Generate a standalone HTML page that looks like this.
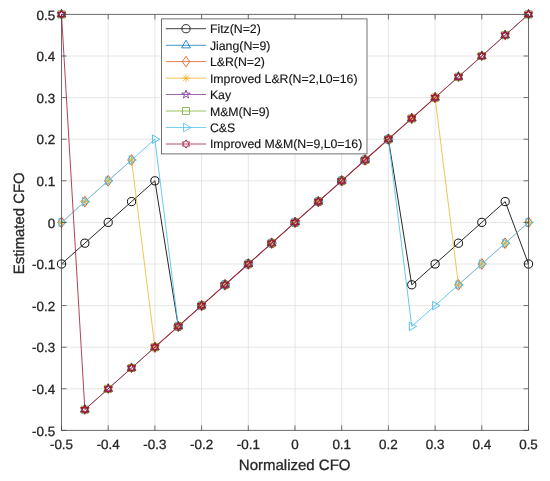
<!DOCTYPE html>
<html><head><meta charset="utf-8"><title>CFO estimators</title>
<style>html,body{margin:0;padding:0;background:#fff}svg{display:block}text{text-rendering:geometricPrecision;stroke:#262626;stroke-width:.15px}.t text{stroke-width:.3px}</style>
</head><body>
<svg width="550" height="481" viewBox="0 0 550 481" font-family="'Liberation Sans', Arial, Helvetica, sans-serif">
<rect width="550" height="481" fill="#fff"/>
<path d="M61.5 14.4V430.4M61.5 14.4H528.5M108.2 14.4V430.4M61.5 56H528.5M154.9 14.4V430.4M61.5 97.6H528.5M201.6 14.4V430.4M61.5 139.2H528.5M248.3 14.4V430.4M61.5 180.8H528.5M295 14.4V430.4M61.5 222.4H528.5M341.7 14.4V430.4M61.5 264H528.5M388.4 14.4V430.4M61.5 305.6H528.5M435.1 14.4V430.4M61.5 347.2H528.5M481.8 14.4V430.4M61.5 388.8H528.5M528.5 14.4V430.4M61.5 430.4H528.5" stroke="#dedede" stroke-width="0.75" fill="none"/>
<path d="M178.25 326.4L201.6 305.6L224.95 284.8L248.3 264L271.65 243.2L295 222.4L318.35 201.6L341.7 180.8L365.05 160L388.4 139.2" stroke="#000000" stroke-width="0.7" stroke-opacity="0.4" fill="none" stroke-linejoin="round"/>
<path d="M61.5 264L84.85 243.2L108.2 222.4L131.55 201.6L154.9 180.8L178.25 326.4M388.4 139.2L411.75 284.8L435.1 264L458.45 243.2L481.8 222.4L505.15 201.6L528.5 264" stroke="#000000" stroke-width="0.85" fill="none" stroke-linejoin="round"/>
<g><circle cx="61.5" cy="264" r="4.1" stroke="#000000" stroke-width="0.95" fill="none"/><circle cx="84.85" cy="243.2" r="4.1" stroke="#000000" stroke-width="0.95" fill="none"/><circle cx="108.2" cy="222.4" r="4.1" stroke="#000000" stroke-width="0.95" fill="none"/><circle cx="131.55" cy="201.6" r="4.1" stroke="#000000" stroke-width="0.95" fill="none"/><circle cx="154.9" cy="180.8" r="4.1" stroke="#000000" stroke-width="0.95" fill="none"/><circle cx="178.25" cy="326.4" r="4.1" stroke="#000000" stroke-width="0.95" fill="none"/><circle cx="201.6" cy="305.6" r="4.1" stroke="#000000" stroke-width="0.95" fill="none"/><circle cx="224.95" cy="284.8" r="4.1" stroke="#000000" stroke-width="0.95" fill="none"/><circle cx="248.3" cy="264" r="4.1" stroke="#000000" stroke-width="0.95" fill="none"/><circle cx="271.65" cy="243.2" r="4.1" stroke="#000000" stroke-width="0.95" fill="none"/><circle cx="295" cy="222.4" r="4.1" stroke="#000000" stroke-width="0.95" fill="none"/><circle cx="318.35" cy="201.6" r="4.1" stroke="#000000" stroke-width="0.95" fill="none"/><circle cx="341.7" cy="180.8" r="4.1" stroke="#000000" stroke-width="0.95" fill="none"/><circle cx="365.05" cy="160" r="4.1" stroke="#000000" stroke-width="0.95" fill="none"/><circle cx="388.4" cy="139.2" r="4.1" stroke="#000000" stroke-width="0.95" fill="none"/><circle cx="411.75" cy="284.8" r="4.1" stroke="#000000" stroke-width="0.95" fill="none"/><circle cx="435.1" cy="264" r="4.1" stroke="#000000" stroke-width="0.95" fill="none"/><circle cx="458.45" cy="243.2" r="4.1" stroke="#000000" stroke-width="0.95" fill="none"/><circle cx="481.8" cy="222.4" r="4.1" stroke="#000000" stroke-width="0.95" fill="none"/><circle cx="505.15" cy="201.6" r="4.1" stroke="#000000" stroke-width="0.95" fill="none"/><circle cx="528.5" cy="264" r="4.1" stroke="#000000" stroke-width="0.95" fill="none"/></g>
<path d="M84.85 409.6L108.2 388.8L131.55 368L154.9 347.2L178.25 326.4L201.6 305.6L224.95 284.8L248.3 264L271.65 243.2L295 222.4L318.35 201.6L341.7 180.8L365.05 160L388.4 139.2L411.75 118.4L435.1 97.6L458.45 76.8L481.8 56L505.15 35.2L528.5 14.4" stroke="#0072BD" stroke-width="0.7" stroke-opacity="0.4" fill="none" stroke-linejoin="round"/>
<g><polygon points="61.5,9.3 65.92,16.95 57.08,16.95" stroke="#0072BD" stroke-width="0.95" fill="none" stroke-linejoin="miter"/><polygon points="84.85,404.5 89.27,412.15 80.43,412.15" stroke="#0072BD" stroke-width="0.95" fill="none" stroke-linejoin="miter"/><polygon points="108.2,383.7 112.62,391.35 103.78,391.35" stroke="#0072BD" stroke-width="0.95" fill="none" stroke-linejoin="miter"/><polygon points="131.55,362.9 135.97,370.55 127.13,370.55" stroke="#0072BD" stroke-width="0.95" fill="none" stroke-linejoin="miter"/><polygon points="154.9,342.1 159.32,349.75 150.48,349.75" stroke="#0072BD" stroke-width="0.95" fill="none" stroke-linejoin="miter"/><polygon points="178.25,321.3 182.67,328.95 173.83,328.95" stroke="#0072BD" stroke-width="0.95" fill="none" stroke-linejoin="miter"/><polygon points="201.6,300.5 206.02,308.15 197.18,308.15" stroke="#0072BD" stroke-width="0.95" fill="none" stroke-linejoin="miter"/><polygon points="224.95,279.7 229.37,287.35 220.53,287.35" stroke="#0072BD" stroke-width="0.95" fill="none" stroke-linejoin="miter"/><polygon points="248.3,258.9 252.72,266.55 243.88,266.55" stroke="#0072BD" stroke-width="0.95" fill="none" stroke-linejoin="miter"/><polygon points="271.65,238.1 276.07,245.75 267.23,245.75" stroke="#0072BD" stroke-width="0.95" fill="none" stroke-linejoin="miter"/><polygon points="295,217.3 299.42,224.95 290.58,224.95" stroke="#0072BD" stroke-width="0.95" fill="none" stroke-linejoin="miter"/><polygon points="318.35,196.5 322.77,204.15 313.93,204.15" stroke="#0072BD" stroke-width="0.95" fill="none" stroke-linejoin="miter"/><polygon points="341.7,175.7 346.12,183.35 337.28,183.35" stroke="#0072BD" stroke-width="0.95" fill="none" stroke-linejoin="miter"/><polygon points="365.05,154.9 369.47,162.55 360.63,162.55" stroke="#0072BD" stroke-width="0.95" fill="none" stroke-linejoin="miter"/><polygon points="388.4,134.1 392.82,141.75 383.98,141.75" stroke="#0072BD" stroke-width="0.95" fill="none" stroke-linejoin="miter"/><polygon points="411.75,113.3 416.17,120.95 407.33,120.95" stroke="#0072BD" stroke-width="0.95" fill="none" stroke-linejoin="miter"/><polygon points="435.1,92.5 439.52,100.15 430.68,100.15" stroke="#0072BD" stroke-width="0.95" fill="none" stroke-linejoin="miter"/><polygon points="458.45,71.7 462.87,79.35 454.03,79.35" stroke="#0072BD" stroke-width="0.95" fill="none" stroke-linejoin="miter"/><polygon points="481.8,50.9 486.22,58.55 477.38,58.55" stroke="#0072BD" stroke-width="0.95" fill="none" stroke-linejoin="miter"/><polygon points="505.15,30.1 509.57,37.75 500.73,37.75" stroke="#0072BD" stroke-width="0.95" fill="none" stroke-linejoin="miter"/><polygon points="528.5,9.3 532.92,16.95 524.08,16.95" stroke="#0072BD" stroke-width="0.95" fill="none" stroke-linejoin="miter"/></g>
<path d="M61.5 222.4L84.85 201.6L108.2 180.8L131.55 160M154.9 347.2L178.25 326.4L201.6 305.6L224.95 284.8L248.3 264L271.65 243.2L295 222.4L318.35 201.6L341.7 180.8L365.05 160L388.4 139.2L411.75 118.4L435.1 97.6M458.45 284.8L481.8 264L505.15 243.2L528.5 222.4" stroke="#D95319" stroke-width="0.7" stroke-opacity="0.4" fill="none" stroke-linejoin="round"/>
<g><polygon points="61.5,217.1 65.2,222.4 61.5,227.7 57.8,222.4" stroke="#D95319" stroke-width="0.95" fill="none" stroke-linejoin="miter"/><polygon points="84.85,196.3 88.55,201.6 84.85,206.9 81.15,201.6" stroke="#D95319" stroke-width="0.95" fill="none" stroke-linejoin="miter"/><polygon points="108.2,175.5 111.9,180.8 108.2,186.1 104.5,180.8" stroke="#D95319" stroke-width="0.95" fill="none" stroke-linejoin="miter"/><polygon points="131.55,154.7 135.25,160 131.55,165.3 127.85,160" stroke="#D95319" stroke-width="0.95" fill="none" stroke-linejoin="miter"/><polygon points="154.9,341.9 158.6,347.2 154.9,352.5 151.2,347.2" stroke="#D95319" stroke-width="0.95" fill="none" stroke-linejoin="miter"/><polygon points="178.25,321.1 181.95,326.4 178.25,331.7 174.55,326.4" stroke="#D95319" stroke-width="0.95" fill="none" stroke-linejoin="miter"/><polygon points="201.6,300.3 205.3,305.6 201.6,310.9 197.9,305.6" stroke="#D95319" stroke-width="0.95" fill="none" stroke-linejoin="miter"/><polygon points="224.95,279.5 228.65,284.8 224.95,290.1 221.25,284.8" stroke="#D95319" stroke-width="0.95" fill="none" stroke-linejoin="miter"/><polygon points="248.3,258.7 252,264 248.3,269.3 244.6,264" stroke="#D95319" stroke-width="0.95" fill="none" stroke-linejoin="miter"/><polygon points="271.65,237.9 275.35,243.2 271.65,248.5 267.95,243.2" stroke="#D95319" stroke-width="0.95" fill="none" stroke-linejoin="miter"/><polygon points="295,217.1 298.7,222.4 295,227.7 291.3,222.4" stroke="#D95319" stroke-width="0.95" fill="none" stroke-linejoin="miter"/><polygon points="318.35,196.3 322.05,201.6 318.35,206.9 314.65,201.6" stroke="#D95319" stroke-width="0.95" fill="none" stroke-linejoin="miter"/><polygon points="341.7,175.5 345.4,180.8 341.7,186.1 338,180.8" stroke="#D95319" stroke-width="0.95" fill="none" stroke-linejoin="miter"/><polygon points="365.05,154.7 368.75,160 365.05,165.3 361.35,160" stroke="#D95319" stroke-width="0.95" fill="none" stroke-linejoin="miter"/><polygon points="388.4,133.9 392.1,139.2 388.4,144.5 384.7,139.2" stroke="#D95319" stroke-width="0.95" fill="none" stroke-linejoin="miter"/><polygon points="411.75,113.1 415.45,118.4 411.75,123.7 408.05,118.4" stroke="#D95319" stroke-width="0.95" fill="none" stroke-linejoin="miter"/><polygon points="435.1,92.3 438.8,97.6 435.1,102.9 431.4,97.6" stroke="#D95319" stroke-width="0.95" fill="none" stroke-linejoin="miter"/><polygon points="458.45,279.5 462.15,284.8 458.45,290.1 454.75,284.8" stroke="#D95319" stroke-width="0.95" fill="none" stroke-linejoin="miter"/><polygon points="481.8,258.7 485.5,264 481.8,269.3 478.1,264" stroke="#D95319" stroke-width="0.95" fill="none" stroke-linejoin="miter"/><polygon points="505.15,237.9 508.85,243.2 505.15,248.5 501.45,243.2" stroke="#D95319" stroke-width="0.95" fill="none" stroke-linejoin="miter"/><polygon points="528.5,217.1 532.2,222.4 528.5,227.7 524.8,222.4" stroke="#D95319" stroke-width="0.95" fill="none" stroke-linejoin="miter"/></g>
<path d="M61.5 222.4L84.85 201.6L108.2 180.8L131.55 160M154.9 347.2L178.25 326.4L201.6 305.6L224.95 284.8L248.3 264L271.65 243.2L295 222.4L318.35 201.6L341.7 180.8L365.05 160L388.4 139.2L411.75 118.4L435.1 97.6M458.45 284.8L481.8 264L505.15 243.2L528.5 222.4" stroke="#EDB120" stroke-width="0.7" stroke-opacity="0.4" fill="none" stroke-linejoin="round"/>
<path d="M131.55 160L154.9 347.2M435.1 97.6L458.45 284.8" stroke="#EDB120" stroke-width="0.89" stroke-opacity="0.85" fill="none" stroke-linejoin="round"/>
<g><path d="M57.6 222.4H65.4M61.5 218.5V226.3M58.75 219.65L64.25 225.15M58.75 225.15L64.25 219.65" stroke="#EDB120" stroke-width="0.95" fill="none"/><path d="M80.95 201.6H88.75M84.85 197.7V205.5M82.1 198.85L87.6 204.35M82.1 204.35L87.6 198.85" stroke="#EDB120" stroke-width="0.95" fill="none"/><path d="M104.3 180.8H112.1M108.2 176.9V184.7M105.45 178.05L110.95 183.55M105.45 183.55L110.95 178.05" stroke="#EDB120" stroke-width="0.95" fill="none"/><path d="M127.65 160H135.45M131.55 156.1V163.9M128.8 157.25L134.3 162.75M128.8 162.75L134.3 157.25" stroke="#EDB120" stroke-width="0.95" fill="none"/><path d="M151 347.2H158.8M154.9 343.3V351.1M152.15 344.45L157.65 349.95M152.15 349.95L157.65 344.45" stroke="#EDB120" stroke-width="0.95" fill="none"/><path d="M174.35 326.4H182.15M178.25 322.5V330.3M175.5 323.65L181 329.15M175.5 329.15L181 323.65" stroke="#EDB120" stroke-width="0.95" fill="none"/><path d="M197.7 305.6H205.5M201.6 301.7V309.5M198.85 302.85L204.35 308.35M198.85 308.35L204.35 302.85" stroke="#EDB120" stroke-width="0.95" fill="none"/><path d="M221.05 284.8H228.85M224.95 280.9V288.7M222.2 282.05L227.7 287.55M222.2 287.55L227.7 282.05" stroke="#EDB120" stroke-width="0.95" fill="none"/><path d="M244.4 264H252.2M248.3 260.1V267.9M245.55 261.25L251.05 266.75M245.55 266.75L251.05 261.25" stroke="#EDB120" stroke-width="0.95" fill="none"/><path d="M267.75 243.2H275.55M271.65 239.3V247.1M268.9 240.45L274.4 245.95M268.9 245.95L274.4 240.45" stroke="#EDB120" stroke-width="0.95" fill="none"/><path d="M291.1 222.4H298.9M295 218.5V226.3M292.25 219.65L297.75 225.15M292.25 225.15L297.75 219.65" stroke="#EDB120" stroke-width="0.95" fill="none"/><path d="M314.45 201.6H322.25M318.35 197.7V205.5M315.6 198.85L321.1 204.35M315.6 204.35L321.1 198.85" stroke="#EDB120" stroke-width="0.95" fill="none"/><path d="M337.8 180.8H345.6M341.7 176.9V184.7M338.95 178.05L344.45 183.55M338.95 183.55L344.45 178.05" stroke="#EDB120" stroke-width="0.95" fill="none"/><path d="M361.15 160H368.95M365.05 156.1V163.9M362.3 157.25L367.8 162.75M362.3 162.75L367.8 157.25" stroke="#EDB120" stroke-width="0.95" fill="none"/><path d="M384.5 139.2H392.3M388.4 135.3V143.1M385.65 136.45L391.15 141.95M385.65 141.95L391.15 136.45" stroke="#EDB120" stroke-width="0.95" fill="none"/><path d="M407.85 118.4H415.65M411.75 114.5V122.3M409 115.65L414.5 121.15M409 121.15L414.5 115.65" stroke="#EDB120" stroke-width="0.95" fill="none"/><path d="M431.2 97.6H439M435.1 93.7V101.5M432.35 94.85L437.85 100.35M432.35 100.35L437.85 94.85" stroke="#EDB120" stroke-width="0.95" fill="none"/><path d="M454.55 284.8H462.35M458.45 280.9V288.7M455.7 282.05L461.2 287.55M455.7 287.55L461.2 282.05" stroke="#EDB120" stroke-width="0.95" fill="none"/><path d="M477.9 264H485.7M481.8 260.1V267.9M479.05 261.25L484.55 266.75M479.05 266.75L484.55 261.25" stroke="#EDB120" stroke-width="0.95" fill="none"/><path d="M501.25 243.2H509.05M505.15 239.3V247.1M502.4 240.45L507.9 245.95M502.4 245.95L507.9 240.45" stroke="#EDB120" stroke-width="0.95" fill="none"/><path d="M524.6 222.4H532.4M528.5 218.5V226.3M525.75 219.65L531.25 225.15M525.75 225.15L531.25 219.65" stroke="#EDB120" stroke-width="0.95" fill="none"/></g>
<path d="M84.85 409.6L108.2 388.8L131.55 368L154.9 347.2L178.25 326.4L201.6 305.6L224.95 284.8L248.3 264L271.65 243.2L295 222.4L318.35 201.6L341.7 180.8L365.05 160L388.4 139.2L411.75 118.4L435.1 97.6L458.45 76.8L481.8 56L505.15 35.2L528.5 14.4" stroke="#7E2F8E" stroke-width="0.7" stroke-opacity="0.4" fill="none" stroke-linejoin="round"/>
<g><polygon points="61.5,9.9 62.51,13.01 65.78,13.01 63.13,14.93 64.15,18.04 61.5,16.12 58.85,18.04 59.87,14.93 57.22,13.01 60.49,13.01" stroke="#7E2F8E" stroke-width="0.95" fill="none" stroke-linejoin="miter"/><polygon points="84.85,405.1 85.86,408.21 89.13,408.21 86.48,410.13 87.5,413.24 84.85,411.32 82.2,413.24 83.22,410.13 80.57,408.21 83.84,408.21" stroke="#7E2F8E" stroke-width="0.95" fill="none" stroke-linejoin="miter"/><polygon points="108.2,384.3 109.21,387.41 112.48,387.41 109.83,389.33 110.85,392.44 108.2,390.52 105.55,392.44 106.57,389.33 103.92,387.41 107.19,387.41" stroke="#7E2F8E" stroke-width="0.95" fill="none" stroke-linejoin="miter"/><polygon points="131.55,363.5 132.56,366.61 135.83,366.61 133.18,368.53 134.2,371.64 131.55,369.72 128.9,371.64 129.92,368.53 127.27,366.61 130.54,366.61" stroke="#7E2F8E" stroke-width="0.95" fill="none" stroke-linejoin="miter"/><polygon points="154.9,342.7 155.91,345.81 159.18,345.81 156.53,347.73 157.55,350.84 154.9,348.92 152.25,350.84 153.27,347.73 150.62,345.81 153.89,345.81" stroke="#7E2F8E" stroke-width="0.95" fill="none" stroke-linejoin="miter"/><polygon points="178.25,321.9 179.26,325.01 182.53,325.01 179.88,326.93 180.9,330.04 178.25,328.12 175.6,330.04 176.62,326.93 173.97,325.01 177.24,325.01" stroke="#7E2F8E" stroke-width="0.95" fill="none" stroke-linejoin="miter"/><polygon points="201.6,301.1 202.61,304.21 205.88,304.21 203.23,306.13 204.25,309.24 201.6,307.32 198.95,309.24 199.97,306.13 197.32,304.21 200.59,304.21" stroke="#7E2F8E" stroke-width="0.95" fill="none" stroke-linejoin="miter"/><polygon points="224.95,280.3 225.96,283.41 229.23,283.41 226.58,285.33 227.6,288.44 224.95,286.52 222.3,288.44 223.32,285.33 220.67,283.41 223.94,283.41" stroke="#7E2F8E" stroke-width="0.95" fill="none" stroke-linejoin="miter"/><polygon points="248.3,259.5 249.31,262.61 252.58,262.61 249.93,264.53 250.95,267.64 248.3,265.72 245.65,267.64 246.67,264.53 244.02,262.61 247.29,262.61" stroke="#7E2F8E" stroke-width="0.95" fill="none" stroke-linejoin="miter"/><polygon points="271.65,238.7 272.66,241.81 275.93,241.81 273.28,243.73 274.3,246.84 271.65,244.92 269,246.84 270.02,243.73 267.37,241.81 270.64,241.81" stroke="#7E2F8E" stroke-width="0.95" fill="none" stroke-linejoin="miter"/><polygon points="295,217.9 296.01,221.01 299.28,221.01 296.63,222.93 297.65,226.04 295,224.12 292.35,226.04 293.37,222.93 290.72,221.01 293.99,221.01" stroke="#7E2F8E" stroke-width="0.95" fill="none" stroke-linejoin="miter"/><polygon points="318.35,197.1 319.36,200.21 322.63,200.21 319.98,202.13 321,205.24 318.35,203.32 315.7,205.24 316.72,202.13 314.07,200.21 317.34,200.21" stroke="#7E2F8E" stroke-width="0.95" fill="none" stroke-linejoin="miter"/><polygon points="341.7,176.3 342.71,179.41 345.98,179.41 343.33,181.33 344.35,184.44 341.7,182.52 339.05,184.44 340.07,181.33 337.42,179.41 340.69,179.41" stroke="#7E2F8E" stroke-width="0.95" fill="none" stroke-linejoin="miter"/><polygon points="365.05,155.5 366.06,158.61 369.33,158.61 366.68,160.53 367.7,163.64 365.05,161.72 362.4,163.64 363.42,160.53 360.77,158.61 364.04,158.61" stroke="#7E2F8E" stroke-width="0.95" fill="none" stroke-linejoin="miter"/><polygon points="388.4,134.7 389.41,137.81 392.68,137.81 390.03,139.73 391.05,142.84 388.4,140.92 385.75,142.84 386.77,139.73 384.12,137.81 387.39,137.81" stroke="#7E2F8E" stroke-width="0.95" fill="none" stroke-linejoin="miter"/><polygon points="411.75,113.9 412.76,117.01 416.03,117.01 413.38,118.93 414.4,122.04 411.75,120.12 409.1,122.04 410.12,118.93 407.47,117.01 410.74,117.01" stroke="#7E2F8E" stroke-width="0.95" fill="none" stroke-linejoin="miter"/><polygon points="435.1,93.1 436.11,96.21 439.38,96.21 436.73,98.13 437.75,101.24 435.1,99.32 432.45,101.24 433.47,98.13 430.82,96.21 434.09,96.21" stroke="#7E2F8E" stroke-width="0.95" fill="none" stroke-linejoin="miter"/><polygon points="458.45,72.3 459.46,75.41 462.73,75.41 460.08,77.33 461.1,80.44 458.45,78.52 455.8,80.44 456.82,77.33 454.17,75.41 457.44,75.41" stroke="#7E2F8E" stroke-width="0.95" fill="none" stroke-linejoin="miter"/><polygon points="481.8,51.5 482.81,54.61 486.08,54.61 483.43,56.53 484.45,59.64 481.8,57.72 479.15,59.64 480.17,56.53 477.52,54.61 480.79,54.61" stroke="#7E2F8E" stroke-width="0.95" fill="none" stroke-linejoin="miter"/><polygon points="505.15,30.7 506.16,33.81 509.43,33.81 506.78,35.73 507.8,38.84 505.15,36.92 502.5,38.84 503.52,35.73 500.87,33.81 504.14,33.81" stroke="#7E2F8E" stroke-width="0.95" fill="none" stroke-linejoin="miter"/><polygon points="528.5,9.9 529.51,13.01 532.78,13.01 530.13,14.93 531.15,18.04 528.5,16.12 525.85,18.04 526.87,14.93 524.22,13.01 527.49,13.01" stroke="#7E2F8E" stroke-width="0.95" fill="none" stroke-linejoin="miter"/></g>
<path d="M84.85 409.6L108.2 388.8L131.55 368L154.9 347.2L178.25 326.4L201.6 305.6L224.95 284.8L248.3 264L271.65 243.2L295 222.4L318.35 201.6L341.7 180.8L365.05 160L388.4 139.2L411.75 118.4L435.1 97.6L458.45 76.8L481.8 56L505.15 35.2L528.5 14.4" stroke="#77AC30" stroke-width="0.7" stroke-opacity="0.4" fill="none" stroke-linejoin="round"/>
<g><polygon points="58,10.9 65,10.9 65,17.9 58,17.9" stroke="#77AC30" stroke-width="0.95" fill="none" stroke-linejoin="miter"/><polygon points="81.35,406.1 88.35,406.1 88.35,413.1 81.35,413.1" stroke="#77AC30" stroke-width="0.95" fill="none" stroke-linejoin="miter"/><polygon points="104.7,385.3 111.7,385.3 111.7,392.3 104.7,392.3" stroke="#77AC30" stroke-width="0.95" fill="none" stroke-linejoin="miter"/><polygon points="128.05,364.5 135.05,364.5 135.05,371.5 128.05,371.5" stroke="#77AC30" stroke-width="0.95" fill="none" stroke-linejoin="miter"/><polygon points="151.4,343.7 158.4,343.7 158.4,350.7 151.4,350.7" stroke="#77AC30" stroke-width="0.95" fill="none" stroke-linejoin="miter"/><polygon points="174.75,322.9 181.75,322.9 181.75,329.9 174.75,329.9" stroke="#77AC30" stroke-width="0.95" fill="none" stroke-linejoin="miter"/><polygon points="198.1,302.1 205.1,302.1 205.1,309.1 198.1,309.1" stroke="#77AC30" stroke-width="0.95" fill="none" stroke-linejoin="miter"/><polygon points="221.45,281.3 228.45,281.3 228.45,288.3 221.45,288.3" stroke="#77AC30" stroke-width="0.95" fill="none" stroke-linejoin="miter"/><polygon points="244.8,260.5 251.8,260.5 251.8,267.5 244.8,267.5" stroke="#77AC30" stroke-width="0.95" fill="none" stroke-linejoin="miter"/><polygon points="268.15,239.7 275.15,239.7 275.15,246.7 268.15,246.7" stroke="#77AC30" stroke-width="0.95" fill="none" stroke-linejoin="miter"/><polygon points="291.5,218.9 298.5,218.9 298.5,225.9 291.5,225.9" stroke="#77AC30" stroke-width="0.95" fill="none" stroke-linejoin="miter"/><polygon points="314.85,198.1 321.85,198.1 321.85,205.1 314.85,205.1" stroke="#77AC30" stroke-width="0.95" fill="none" stroke-linejoin="miter"/><polygon points="338.2,177.3 345.2,177.3 345.2,184.3 338.2,184.3" stroke="#77AC30" stroke-width="0.95" fill="none" stroke-linejoin="miter"/><polygon points="361.55,156.5 368.55,156.5 368.55,163.5 361.55,163.5" stroke="#77AC30" stroke-width="0.95" fill="none" stroke-linejoin="miter"/><polygon points="384.9,135.7 391.9,135.7 391.9,142.7 384.9,142.7" stroke="#77AC30" stroke-width="0.95" fill="none" stroke-linejoin="miter"/><polygon points="408.25,114.9 415.25,114.9 415.25,121.9 408.25,121.9" stroke="#77AC30" stroke-width="0.95" fill="none" stroke-linejoin="miter"/><polygon points="431.6,94.1 438.6,94.1 438.6,101.1 431.6,101.1" stroke="#77AC30" stroke-width="0.95" fill="none" stroke-linejoin="miter"/><polygon points="454.95,73.3 461.95,73.3 461.95,80.3 454.95,80.3" stroke="#77AC30" stroke-width="0.95" fill="none" stroke-linejoin="miter"/><polygon points="478.3,52.5 485.3,52.5 485.3,59.5 478.3,59.5" stroke="#77AC30" stroke-width="0.95" fill="none" stroke-linejoin="miter"/><polygon points="501.65,31.7 508.65,31.7 508.65,38.7 501.65,38.7" stroke="#77AC30" stroke-width="0.95" fill="none" stroke-linejoin="miter"/><polygon points="525,10.9 532,10.9 532,17.9 525,17.9" stroke="#77AC30" stroke-width="0.95" fill="none" stroke-linejoin="miter"/></g>
<path d="M178.25 326.4L201.6 305.6L224.95 284.8L248.3 264L271.65 243.2L295 222.4L318.35 201.6L341.7 180.8L365.05 160L388.4 139.2" stroke="#4DBEEE" stroke-width="0.7" stroke-opacity="0.4" fill="none" stroke-linejoin="round"/>
<path d="M131.55 160L154.9 139.2L178.25 326.4M388.4 139.2L411.75 326.4L435.1 305.6L458.45 284.8" stroke="#4DBEEE" stroke-width="0.85" fill="none" stroke-linejoin="round"/>
<path d="M61.5 222.4L84.85 201.6L108.2 180.8L131.55 160M458.45 284.8L481.8 264L505.15 243.2L528.5 222.4" stroke="#4DBEEE" stroke-width="0.92" stroke-opacity="0.85" fill="none" stroke-linejoin="round"/>
<g><polygon points="66.4,222.4 59.05,226.64 59.05,218.16" stroke="#4DBEEE" stroke-width="0.95" fill="none" stroke-linejoin="miter"/><polygon points="89.75,201.6 82.4,205.84 82.4,197.36" stroke="#4DBEEE" stroke-width="0.95" fill="none" stroke-linejoin="miter"/><polygon points="113.1,180.8 105.75,185.04 105.75,176.56" stroke="#4DBEEE" stroke-width="0.95" fill="none" stroke-linejoin="miter"/><polygon points="136.45,160 129.1,164.24 129.1,155.76" stroke="#4DBEEE" stroke-width="0.95" fill="none" stroke-linejoin="miter"/><polygon points="159.8,139.2 152.45,143.44 152.45,134.96" stroke="#4DBEEE" stroke-width="0.95" fill="none" stroke-linejoin="miter"/><polygon points="183.15,326.4 175.8,330.64 175.8,322.16" stroke="#4DBEEE" stroke-width="0.95" fill="none" stroke-linejoin="miter"/><polygon points="206.5,305.6 199.15,309.84 199.15,301.36" stroke="#4DBEEE" stroke-width="0.95" fill="none" stroke-linejoin="miter"/><polygon points="229.85,284.8 222.5,289.04 222.5,280.56" stroke="#4DBEEE" stroke-width="0.95" fill="none" stroke-linejoin="miter"/><polygon points="253.2,264 245.85,268.24 245.85,259.76" stroke="#4DBEEE" stroke-width="0.95" fill="none" stroke-linejoin="miter"/><polygon points="276.55,243.2 269.2,247.44 269.2,238.96" stroke="#4DBEEE" stroke-width="0.95" fill="none" stroke-linejoin="miter"/><polygon points="299.9,222.4 292.55,226.64 292.55,218.16" stroke="#4DBEEE" stroke-width="0.95" fill="none" stroke-linejoin="miter"/><polygon points="323.25,201.6 315.9,205.84 315.9,197.36" stroke="#4DBEEE" stroke-width="0.95" fill="none" stroke-linejoin="miter"/><polygon points="346.6,180.8 339.25,185.04 339.25,176.56" stroke="#4DBEEE" stroke-width="0.95" fill="none" stroke-linejoin="miter"/><polygon points="369.95,160 362.6,164.24 362.6,155.76" stroke="#4DBEEE" stroke-width="0.95" fill="none" stroke-linejoin="miter"/><polygon points="393.3,139.2 385.95,143.44 385.95,134.96" stroke="#4DBEEE" stroke-width="0.95" fill="none" stroke-linejoin="miter"/><polygon points="416.65,326.4 409.3,330.64 409.3,322.16" stroke="#4DBEEE" stroke-width="0.95" fill="none" stroke-linejoin="miter"/><polygon points="440,305.6 432.65,309.84 432.65,301.36" stroke="#4DBEEE" stroke-width="0.95" fill="none" stroke-linejoin="miter"/><polygon points="463.35,284.8 456,289.04 456,280.56" stroke="#4DBEEE" stroke-width="0.95" fill="none" stroke-linejoin="miter"/><polygon points="486.7,264 479.35,268.24 479.35,259.76" stroke="#4DBEEE" stroke-width="0.95" fill="none" stroke-linejoin="miter"/><polygon points="510.05,243.2 502.7,247.44 502.7,238.96" stroke="#4DBEEE" stroke-width="0.95" fill="none" stroke-linejoin="miter"/><polygon points="533.4,222.4 526.05,226.64 526.05,218.16" stroke="#4DBEEE" stroke-width="0.95" fill="none" stroke-linejoin="miter"/></g>
<path d="M61.5 14.4L84.85 409.6L108.2 388.8L131.55 368L154.9 347.2M435.1 97.6L458.45 76.8L481.8 56L505.15 35.2L528.5 14.4" stroke="#A2142F" stroke-width="0.95" stroke-opacity="0.85" fill="none" stroke-linejoin="round"/>
<path d="M154.9 347.2L178.25 326.4M388.4 139.2L411.75 118.4L435.1 97.6" stroke="#A2142F" stroke-width="1.02" stroke-opacity="0.85" fill="none" stroke-linejoin="round"/>
<path d="M178.25 326.4L201.6 305.6L224.95 284.8L248.3 264L271.65 243.2L295 222.4L318.35 201.6L341.7 180.8L365.05 160L388.4 139.2" stroke="#A2142F" stroke-width="1.09" stroke-opacity="0.85" fill="none" stroke-linejoin="round"/>
<g><polygon points="61.5,10.3 62.68,12.35 65.05,12.35 63.87,14.4 65.05,16.45 62.68,16.45 61.5,18.5 60.32,16.45 57.95,16.45 59.13,14.4 57.95,12.35 60.32,12.35" stroke="#A2142F" stroke-width="1.20" fill="none" stroke-linejoin="miter"/><polygon points="84.85,405.5 86.03,407.55 88.4,407.55 87.22,409.6 88.4,411.65 86.03,411.65 84.85,413.7 83.67,411.65 81.3,411.65 82.48,409.6 81.3,407.55 83.67,407.55" stroke="#A2142F" stroke-width="1.20" fill="none" stroke-linejoin="miter"/><polygon points="108.2,384.7 109.38,386.75 111.75,386.75 110.57,388.8 111.75,390.85 109.38,390.85 108.2,392.9 107.02,390.85 104.65,390.85 105.83,388.8 104.65,386.75 107.02,386.75" stroke="#A2142F" stroke-width="1.20" fill="none" stroke-linejoin="miter"/><polygon points="131.55,363.9 132.73,365.95 135.1,365.95 133.92,368 135.1,370.05 132.73,370.05 131.55,372.1 130.37,370.05 128,370.05 129.18,368 128,365.95 130.37,365.95" stroke="#A2142F" stroke-width="1.20" fill="none" stroke-linejoin="miter"/><polygon points="154.9,343.1 156.08,345.15 158.45,345.15 157.27,347.2 158.45,349.25 156.08,349.25 154.9,351.3 153.72,349.25 151.35,349.25 152.53,347.2 151.35,345.15 153.72,345.15" stroke="#A2142F" stroke-width="1.20" fill="none" stroke-linejoin="miter"/><polygon points="178.25,322.3 179.43,324.35 181.8,324.35 180.62,326.4 181.8,328.45 179.43,328.45 178.25,330.5 177.07,328.45 174.7,328.45 175.88,326.4 174.7,324.35 177.07,324.35" stroke="#A2142F" stroke-width="1.20" fill="none" stroke-linejoin="miter"/><polygon points="201.6,301.5 202.78,303.55 205.15,303.55 203.97,305.6 205.15,307.65 202.78,307.65 201.6,309.7 200.42,307.65 198.05,307.65 199.23,305.6 198.05,303.55 200.42,303.55" stroke="#A2142F" stroke-width="1.20" fill="none" stroke-linejoin="miter"/><polygon points="224.95,280.7 226.13,282.75 228.5,282.75 227.32,284.8 228.5,286.85 226.13,286.85 224.95,288.9 223.77,286.85 221.4,286.85 222.58,284.8 221.4,282.75 223.77,282.75" stroke="#A2142F" stroke-width="1.20" fill="none" stroke-linejoin="miter"/><polygon points="248.3,259.9 249.48,261.95 251.85,261.95 250.67,264 251.85,266.05 249.48,266.05 248.3,268.1 247.12,266.05 244.75,266.05 245.93,264 244.75,261.95 247.12,261.95" stroke="#A2142F" stroke-width="1.20" fill="none" stroke-linejoin="miter"/><polygon points="271.65,239.1 272.83,241.15 275.2,241.15 274.02,243.2 275.2,245.25 272.83,245.25 271.65,247.3 270.47,245.25 268.1,245.25 269.28,243.2 268.1,241.15 270.47,241.15" stroke="#A2142F" stroke-width="1.20" fill="none" stroke-linejoin="miter"/><polygon points="295,218.3 296.18,220.35 298.55,220.35 297.37,222.4 298.55,224.45 296.18,224.45 295,226.5 293.82,224.45 291.45,224.45 292.63,222.4 291.45,220.35 293.82,220.35" stroke="#A2142F" stroke-width="1.20" fill="none" stroke-linejoin="miter"/><polygon points="318.35,197.5 319.53,199.55 321.9,199.55 320.72,201.6 321.9,203.65 319.53,203.65 318.35,205.7 317.17,203.65 314.8,203.65 315.98,201.6 314.8,199.55 317.17,199.55" stroke="#A2142F" stroke-width="1.20" fill="none" stroke-linejoin="miter"/><polygon points="341.7,176.7 342.88,178.75 345.25,178.75 344.07,180.8 345.25,182.85 342.88,182.85 341.7,184.9 340.52,182.85 338.15,182.85 339.33,180.8 338.15,178.75 340.52,178.75" stroke="#A2142F" stroke-width="1.20" fill="none" stroke-linejoin="miter"/><polygon points="365.05,155.9 366.23,157.95 368.6,157.95 367.42,160 368.6,162.05 366.23,162.05 365.05,164.1 363.87,162.05 361.5,162.05 362.68,160 361.5,157.95 363.87,157.95" stroke="#A2142F" stroke-width="1.20" fill="none" stroke-linejoin="miter"/><polygon points="388.4,135.1 389.58,137.15 391.95,137.15 390.77,139.2 391.95,141.25 389.58,141.25 388.4,143.3 387.22,141.25 384.85,141.25 386.03,139.2 384.85,137.15 387.22,137.15" stroke="#A2142F" stroke-width="1.20" fill="none" stroke-linejoin="miter"/><polygon points="411.75,114.3 412.93,116.35 415.3,116.35 414.12,118.4 415.3,120.45 412.93,120.45 411.75,122.5 410.57,120.45 408.2,120.45 409.38,118.4 408.2,116.35 410.57,116.35" stroke="#A2142F" stroke-width="1.20" fill="none" stroke-linejoin="miter"/><polygon points="435.1,93.5 436.28,95.55 438.65,95.55 437.47,97.6 438.65,99.65 436.28,99.65 435.1,101.7 433.92,99.65 431.55,99.65 432.73,97.6 431.55,95.55 433.92,95.55" stroke="#A2142F" stroke-width="1.20" fill="none" stroke-linejoin="miter"/><polygon points="458.45,72.7 459.63,74.75 462,74.75 460.82,76.8 462,78.85 459.63,78.85 458.45,80.9 457.27,78.85 454.9,78.85 456.08,76.8 454.9,74.75 457.27,74.75" stroke="#A2142F" stroke-width="1.20" fill="none" stroke-linejoin="miter"/><polygon points="481.8,51.9 482.98,53.95 485.35,53.95 484.17,56 485.35,58.05 482.98,58.05 481.8,60.1 480.62,58.05 478.25,58.05 479.43,56 478.25,53.95 480.62,53.95" stroke="#A2142F" stroke-width="1.20" fill="none" stroke-linejoin="miter"/><polygon points="505.15,31.1 506.33,33.15 508.7,33.15 507.52,35.2 508.7,37.25 506.33,37.25 505.15,39.3 503.97,37.25 501.6,37.25 502.78,35.2 501.6,33.15 503.97,33.15" stroke="#A2142F" stroke-width="1.20" fill="none" stroke-linejoin="miter"/><polygon points="528.5,10.3 529.68,12.35 532.05,12.35 530.87,14.4 532.05,16.45 529.68,16.45 528.5,18.5 527.32,16.45 524.95,16.45 526.13,14.4 524.95,12.35 527.32,12.35" stroke="#A2142F" stroke-width="1.20" fill="none" stroke-linejoin="miter"/></g>
<path d="M61.5 14.4H528.5V430.4H61.5ZM61.5 430.4v-5M61.5 14.4v5M61.5 14.4h5M528.5 14.4h-5M108.2 430.4v-5M108.2 14.4v5M61.5 56h5M528.5 56h-5M154.9 430.4v-5M154.9 14.4v5M61.5 97.6h5M528.5 97.6h-5M201.6 430.4v-5M201.6 14.4v5M61.5 139.2h5M528.5 139.2h-5M248.3 430.4v-5M248.3 14.4v5M61.5 180.8h5M528.5 180.8h-5M295 430.4v-5M295 14.4v5M61.5 222.4h5M528.5 222.4h-5M341.7 430.4v-5M341.7 14.4v5M61.5 264h5M528.5 264h-5M388.4 430.4v-5M388.4 14.4v5M61.5 305.6h5M528.5 305.6h-5M435.1 430.4v-5M435.1 14.4v5M61.5 347.2h5M528.5 347.2h-5M481.8 430.4v-5M481.8 14.4v5M61.5 388.8h5M528.5 388.8h-5M528.5 430.4v-5M528.5 14.4v5M61.5 430.4h5M528.5 430.4h-5" stroke="#444" stroke-width="0.75" fill="none"/>
<g class="t" font-size="13.4" fill="#262626">
<text x="61.5" y="449.1" text-anchor="middle">-0.5</text>
<text x="108.2" y="449.1" text-anchor="middle">-0.4</text>
<text x="154.9" y="449.1" text-anchor="middle">-0.3</text>
<text x="201.6" y="449.1" text-anchor="middle">-0.2</text>
<text x="248.3" y="449.1" text-anchor="middle">-0.1</text>
<text x="295" y="449.1" text-anchor="middle">0</text>
<text x="341.7" y="449.1" text-anchor="middle">0.1</text>
<text x="388.4" y="449.1" text-anchor="middle">0.2</text>
<text x="435.1" y="449.1" text-anchor="middle">0.3</text>
<text x="481.8" y="449.1" text-anchor="middle">0.4</text>
<text x="528.5" y="449.1" text-anchor="middle">0.5</text>
<text x="55.2" y="435.6" text-anchor="end">-0.5</text>
<text x="55.2" y="394" text-anchor="end">-0.4</text>
<text x="55.2" y="352.4" text-anchor="end">-0.3</text>
<text x="55.2" y="310.8" text-anchor="end">-0.2</text>
<text x="55.2" y="269.2" text-anchor="end">-0.1</text>
<text x="55.2" y="227.6" text-anchor="end">0</text>
<text x="55.2" y="186" text-anchor="end">0.1</text>
<text x="55.2" y="144.4" text-anchor="end">0.2</text>
<text x="55.2" y="102.8" text-anchor="end">0.3</text>
<text x="55.2" y="61.2" text-anchor="end">0.4</text>
<text x="55.2" y="19.6" text-anchor="end">0.5</text>
</g>
<g class="t" font-size="15" fill="#262626">
<text x="294.7" y="469.8" text-anchor="middle">Normalized CFO</text>
<text transform="translate(24.0 223.3) rotate(-90)" text-anchor="middle" font-size="14.9">Estimated CFO</text>
</g>
<rect x="161.5" y="18.9" width="205.5" height="135" fill="#fff" stroke="#444" stroke-width="0.75"/>
<g font-size="12.3" fill="#111">
<path d="M165.8 28.7H206" stroke="#000000" stroke-width="0.75"/>
<circle cx="186" cy="28.7" r="4.1" stroke="#000000" stroke-width="0.8" fill="none"/>
<text x="209.9" y="33.3">Fitz(N=2)</text>
<path d="M165.8 45.3H206" stroke="#0072BD" stroke-width="0.75"/>
<polygon points="186,40.2 190.42,47.85 181.58,47.85" stroke="#0072BD" stroke-width="0.8" fill="none" stroke-linejoin="miter"/>
<text x="209.9" y="49.75">Jiang(N=9)</text>
<path d="M165.8 61.6H206" stroke="#D95319" stroke-width="0.75"/>
<polygon points="186,56.3 189.7,61.6 186,66.9 182.3,61.6" stroke="#D95319" stroke-width="0.8" fill="none" stroke-linejoin="miter"/>
<text x="209.9" y="66.2">L&amp;R(N=2)</text>
<path d="M165.8 78.2H206" stroke="#EDB120" stroke-width="0.75"/>
<path d="M182.1 78.2H189.9M186 74.3V82.1M183.25 75.45L188.75 80.95M183.25 80.95L188.75 75.45" stroke="#EDB120" stroke-width="0.8" fill="none"/>
<text x="209.9" y="82.65">Improved L&amp;R(N=2,L0=16)</text>
<path d="M165.8 94.5H206" stroke="#7E2F8E" stroke-width="0.75"/>
<polygon points="186,90 187.01,93.11 190.28,93.11 187.63,95.03 188.65,98.14 186,96.22 183.35,98.14 184.37,95.03 181.72,93.11 184.99,93.11" stroke="#7E2F8E" stroke-width="0.8" fill="none" stroke-linejoin="miter"/>
<text x="209.9" y="99.1">Kay</text>
<path d="M165.8 111H206" stroke="#77AC30" stroke-width="0.75"/>
<polygon points="182.5,107.5 189.5,107.5 189.5,114.5 182.5,114.5" stroke="#77AC30" stroke-width="0.8" fill="none" stroke-linejoin="miter"/>
<text x="209.9" y="115.55">M&amp;M(N=9)</text>
<path d="M165.8 127.5H206" stroke="#4DBEEE" stroke-width="0.75"/>
<polygon points="190.9,127.5 183.55,131.74 183.55,123.26" stroke="#4DBEEE" stroke-width="0.8" fill="none" stroke-linejoin="miter"/>
<text x="209.9" y="132">C&amp;S</text>
<path d="M165.8 144H206" stroke="#A2142F" stroke-width="0.75"/>
<polygon points="186,139.9 187.18,141.95 189.55,141.95 188.37,144 189.55,146.05 187.18,146.05 186,148.1 184.82,146.05 182.45,146.05 183.63,144 182.45,141.95 184.82,141.95" stroke="#A2142F" stroke-width="0.9" fill="none" stroke-linejoin="miter"/>
<text x="209.9" y="148.45">Improved M&amp;M(N=9,L0=16)</text>
</g>
</svg>
</body></html>
